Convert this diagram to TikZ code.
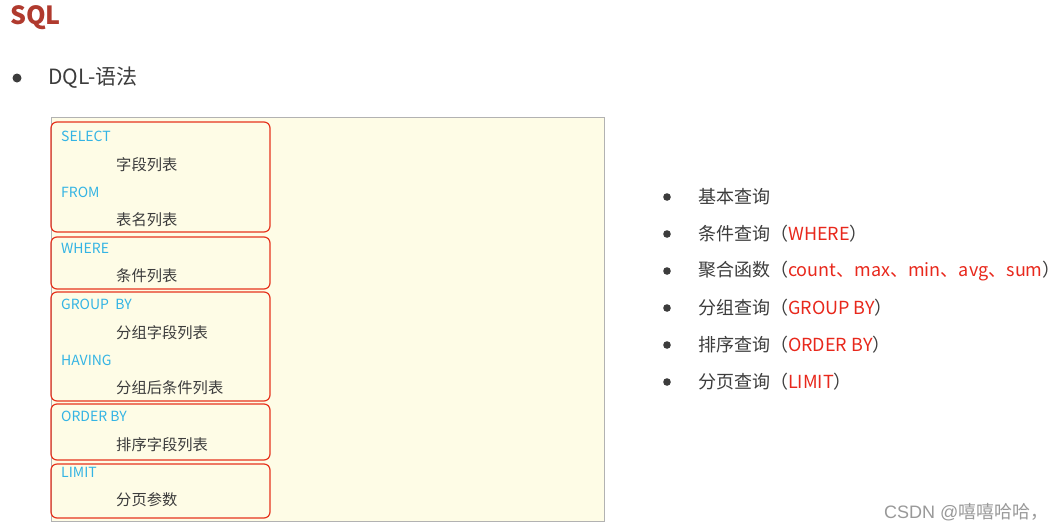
\documentclass[tikz,border=0pt]{standalone}
\usepackage{fontspec}
\setmainfont{Noto Sans CJK SC}
\newfontfamily\wmfont{Liberation Sans}
\usepackage{xcolor}
\definecolor{titlered}{RGB}{176,58,46}
\definecolor{kwblue}{RGB}{52,180,228}
\definecolor{boxred}{RGB}{230,52,30}
\definecolor{paper}{RGB}{254,252,230}
\definecolor{txtgray}{RGB}{60,60,60}
\definecolor{hotred}{RGB}{232,40,28}
\usetikzlibrary{positioning}

\begin{document}
\begin{tikzpicture}[x=1pt,y=-1pt,
    kw/.style={anchor=west,inner sep=0pt,text=kwblue,font=\fontsize{14}{14}\selectfont},
    entry/.style={anchor=west,inner sep=0pt,text=txtgray,font=\fontsize{15.3}{15.3}\selectfont},
    grp/.style={draw=boxred,line width=1.2pt,rounded corners=6pt},
    point/.style={anchor=west,inner sep=0pt,text=txtgray,font=\fontsize{18}{18}\selectfont}]
      \useasboundingbox (0,0) rectangle (1062,531);
      \fill[white] (0,0) rectangle (1062,531);
      \node[anchor=west,inner sep=0pt,text=titlered,font=\fontsize{25}{25}\selectfont\bfseries] (title) at (10,18) {SQL};
      \fill[txtgray] (17,78) circle (4.5pt);
      \node[anchor=west,inner sep=0pt,text=txtgray,font=\fontsize{21}{21}\selectfont] (dql) at (48,78) {DQL-语法};

      % syntax panel
      \draw[fill=paper,draw=black!30] (51,117) rectangle (604,521);
      \draw[grp] (51,122) rectangle (270,232);
      \draw[grp] (51,237) rectangle (270,289);
      \draw[grp] (51,292) rectangle (270,401);
      \draw[grp] (51,404) rectangle (270,460);
      \draw[grp] (51,464) rectangle (270,518);

      \node[kw] (select) at (61,136) {SELECT};
      \node[entry] (fields) at (116,165) {字段列表};
      \node[kw] (from) at (61,192) {FROM};
      \node[entry] (tables) at (116,220) {表名列表};
      \node[kw] (where) at (61,248) {WHERE};
      \node[entry] (conds) at (116,276) {条件列表};
      \node[kw] (groupby) at (61,304) {GROUP\ \ BY};
      \node[entry] (gfields) at (116,333) {分组字段列表};
      \node[kw] (having) at (61,360) {HAVING};
      \node[entry] (gconds) at (116,388) {分组后条件列表};
      \node[kw] (orderby) at (61,416) {ORDER BY};
      \node[entry] (ofields) at (116,445) {排序字段列表};
      \node[kw] (limit) at (61,472) {LIMIT};
      \node[entry] (pages) at (116,500) {分页参数};

      % query kinds
      \foreach \y in {197,234,271,308,345,382}
        \fill[txtgray] (667,\y) circle (3.8pt);
      \node[point] (basic) at (698,197) {基本查询};
      \node[point] (cond) at (698,234) {条件查询（\textcolor{hotred}{WHERE}）};
      \node[point] (agg) at (698,271) {聚合函数（\textcolor{hotred}{count、max、min、avg、sum}）};
      \node[point] (group) at (698,308) {分组查询（\textcolor{hotred}{GROUP BY}）};
      \node[point] (order) at (698,345) {排序查询（\textcolor{hotred}{ORDER BY}）};
      \node[point] (page) at (698,382) {分页查询（\textcolor{hotred}{LIMIT}）};

      \node[anchor=west,inner sep=0pt,text=black!40,font=\fontsize{18}{18}\selectfont] (mark) at (884,512) {{\wmfont CSDN @}嘻嘻哈哈，};
    \end{tikzpicture}
\end{document}
